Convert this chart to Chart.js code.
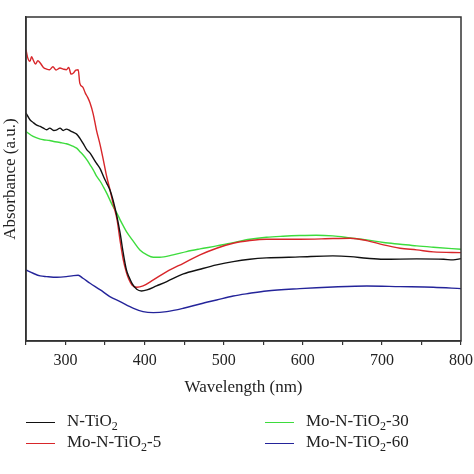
<!DOCTYPE html>
<html>
<head>
<meta charset="utf-8">
<script src="https://cdn.jsdelivr.net/npm/chart.js@4.4.1/dist/chart.umd.min.js"></script>
<style>
  html, body { margin: 0; padding: 0; background: #fff; }
  #wrap { position: relative; width: 474px; height: 474px; }
  .leg { position: absolute; font-family: "Liberation Serif", "DejaVu Serif", serif; font-size: 17px; color: #222; white-space: nowrap; }
  .leg i { position: absolute; top: 11px; width: 29px; height: 0; border-top: 1.5px solid; }
  .leg span { position: absolute; left: 41px; top: 0; }
  .leg sub { font-size: 12px; vertical-align: -4px; line-height: 0; }
</style>
</head>
<body>
<div id="wrap">
  <canvas id="uvChart" width="474" height="474"></canvas>
</div>
<script>
// --- DADOS ---
const seriesNames = ['N-TiO2', 'Mo-N-TiO2-5', 'Mo-N-TiO2-30', 'Mo-N-TiO2-60'];
const seriesColors = ['#111111', '#d8262a', '#3ddc3d', '#24249a'];

const blackWl  = [250, 255, 259, 263, 268, 272, 276, 280, 285, 289, 293, 297, 301, 306, 310, 314, 318, 322, 327, 331, 335, 339, 344, 348, 352, 356, 360, 365, 369, 373, 377, 380, 384, 390, 396, 403, 415, 428, 449, 470, 491, 512, 533, 554, 596, 638, 660, 681, 702, 744, 778, 790, 800];
const blackAbs = [0.683, 0.663, 0.655, 0.648, 0.643, 0.638, 0.633, 0.638, 0.631, 0.633, 0.638, 0.631, 0.635, 0.630, 0.625, 0.620, 0.608, 0.593, 0.573, 0.563, 0.548, 0.533, 0.515, 0.493, 0.473, 0.453, 0.423, 0.373, 0.323, 0.263, 0.213, 0.193, 0.173, 0.155, 0.150, 0.153, 0.165, 0.178, 0.201, 0.215, 0.228, 0.238, 0.245, 0.249, 0.252, 0.255, 0.253, 0.248, 0.245, 0.246, 0.245, 0.243, 0.247];

const redWl  = [250, 252, 255, 257, 259, 262, 265, 268, 272, 276, 280, 284, 288, 293, 297, 301, 304, 307, 310, 313, 316, 318, 322, 325, 328, 331, 335, 339, 344, 348, 352, 356, 360, 365, 369, 373, 377, 380, 384, 390, 398, 411, 428, 449, 470, 491, 512, 533, 554, 596, 638, 660, 681, 702, 723, 744, 765, 800];
const redAbs = [0.873, 0.850, 0.838, 0.852, 0.843, 0.830, 0.840, 0.833, 0.820, 0.815, 0.813, 0.822, 0.812, 0.818, 0.815, 0.813, 0.820, 0.800, 0.803, 0.812, 0.813, 0.773, 0.760, 0.743, 0.730, 0.713, 0.680, 0.633, 0.585, 0.540, 0.493, 0.455, 0.413, 0.365, 0.300, 0.243, 0.205, 0.185, 0.168, 0.161, 0.165, 0.183, 0.208, 0.233, 0.258, 0.278, 0.293, 0.301, 0.305, 0.305, 0.307, 0.308, 0.301, 0.288, 0.278, 0.273, 0.267, 0.265];

const greenWl  = [250, 259, 268, 272, 280, 285, 293, 297, 301, 306, 310, 314, 318, 322, 327, 331, 335, 339, 344, 348, 352, 356, 360, 365, 369, 373, 377, 386, 394, 403, 411, 419, 436, 453, 470, 491, 512, 533, 554, 575, 596, 617, 638, 660, 681, 702, 723, 744, 765, 800];
const greenAbs = [0.628, 0.613, 0.605, 0.603, 0.601, 0.598, 0.595, 0.593, 0.591, 0.587, 0.583, 0.578, 0.568, 0.558, 0.543, 0.528, 0.513, 0.495, 0.478, 0.461, 0.443, 0.423, 0.403, 0.383, 0.363, 0.345, 0.328, 0.298, 0.273, 0.258, 0.251, 0.251, 0.258, 0.268, 0.276, 0.285, 0.295, 0.305, 0.311, 0.314, 0.316, 0.317, 0.315, 0.309, 0.303, 0.295, 0.290, 0.285, 0.281, 0.275];

const blueWl  = [250, 259, 268, 276, 289, 301, 310, 316, 322, 331, 344, 356, 369, 386, 398, 411, 428, 449, 470, 491, 512, 533, 554, 596, 638, 681, 723, 765, 800];
const blueAbs = [0.213, 0.203, 0.195, 0.193, 0.191, 0.193, 0.196, 0.197, 0.188, 0.173, 0.153, 0.133, 0.118, 0.098, 0.088, 0.085, 0.088, 0.098, 0.111, 0.123, 0.135, 0.143, 0.150, 0.157, 0.162, 0.165, 0.163, 0.161, 0.157];

const xTicks = [250, 300, 350, 400, 450, 500, 550, 600, 650, 700, 750, 800];
const xLabels = ['', '300', '', '400', '', '500', '', '600', '', '700', '', '800'];

// --- MONTAGEM ---
const toPoints = (xs, ys) => xs.map((x, i) => ({ x: x, y: ys[i] }));
const allWl = [blackWl, redWl, greenWl, blueWl];
const allAbs = [blackAbs, redAbs, greenAbs, blueAbs];

const FONT = '"Liberation Serif", "DejaVu Serif", serif';
const AXIS_COLOR = '#333333';

const frame = {
    id: 'frame',
    afterDraw(chart) {
        const { ctx, chartArea: a } = chart;
        ctx.save();
        ctx.strokeStyle = AXIS_COLOR;
        ctx.lineWidth = 1.5;
        ctx.strokeRect(a.left, a.top, a.right - a.left, a.bottom - a.top);
        ctx.restore();
    }
};

new Chart(document.getElementById('uvChart').getContext('2d'), {
    type: 'line',
    data: {
        datasets: seriesNames.map((name, i) => ({
            label: name,
            data: toPoints(allWl[i], allAbs[i]),
            borderColor: seriesColors[i],
            borderWidth: 1.4,
            pointRadius: 0,
            cubicInterpolationMode: 'monotone',
            fill: false
        }))
    },
    options: {
        responsive: false,
        animation: false,
        layout: { padding: { top: 17, right: 13, bottom: 70, left: 0 } },
        scales: {
            x: {
                type: 'linear',
                min: 250,
                max: 800,
                afterBuildTicks: (scale) => { scale.ticks = xTicks.map(v => ({ value: v })); },
                afterFit: (scale) => {
                    scale.height = 63;
                    scale.paddingLeft = 0;
                    scale.paddingRight = 0;
                },
                ticks: {
                    autoSkip: false,
                    maxRotation: 0,
                    padding: 6,
                    color: '#222',
                    font: { family: FONT, size: 16 },
                    callback: (value) => xLabels[xTicks.indexOf(value)] ?? ''
                },
                grid: { drawOnChartArea: false, drawTicks: true, tickLength: 4, color: AXIS_COLOR, lineWidth: 1.2 },
                border: { display: true, color: AXIS_COLOR, width: 1.5 },
                title: {
                    display: true,
                    text: 'Wavelength (nm)',
                    color: '#222',
                    font: { family: FONT, size: 17 },
                    padding: { top: 0, bottom: 6 }
                }
            },
            y: {
                min: 0,
                max: 0.971,
                afterFit: (scale) => { scale.width = 26; },
                ticks: { display: false },
                grid: { display: false },
                border: { display: true, color: AXIS_COLOR, width: 1.5 },
                title: {
                    display: true,
                    text: 'Absorbance (a.u.)',
                    color: '#222',
                    font: { family: FONT, size: 17 },
                    padding: 0
                }
            }
        },
        plugins: {
            legend: { display: false },
            tooltip: { enabled: false }
        }
    },
    plugins: [frame]
});

// --- LEGENDA (HTML, com subscrito) ---
const legendPos = [[26, 411], [26, 432], [265, 411], [265, 432]];
const wrap = document.getElementById('wrap');
seriesNames.forEach((name, i) => {
    const div = document.createElement('div');
    div.className = 'leg';
    div.style.left = legendPos[i][0] + 'px';
    div.style.top = legendPos[i][1] + 'px';
    const line = document.createElement('i');
    line.style.borderColor = seriesColors[i];
    const txt = document.createElement('span');
    txt.innerHTML = name.replace('TiO2', 'TiO<sub>2</sub>');
    div.appendChild(line);
    div.appendChild(txt);
    wrap.appendChild(div);
});
</script>
</body>
</html>
